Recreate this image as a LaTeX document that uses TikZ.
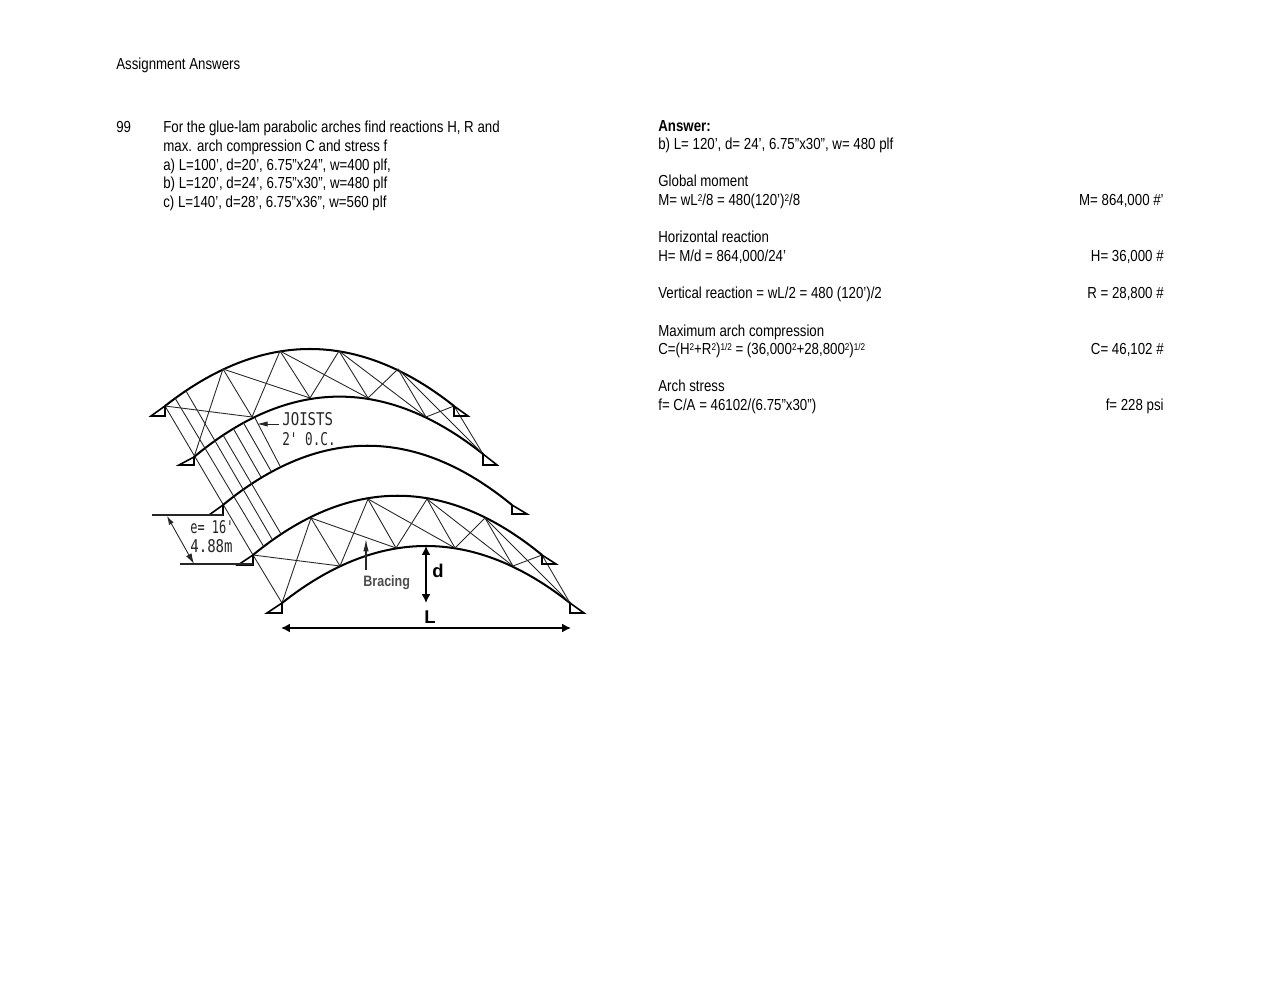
\documentclass[tikz,border=0pt]{standalone}
\usepackage{fontspec}
\setmainfont[FakeStretch=0.83]{Liberation Sans}
\newfontfamily\draftfont[FakeStretch=0.8]{DejaVu Sans Mono}
\newfontfamily\draftnarrow[FakeStretch=0.68]{DejaVu Sans Mono}
\newfontfamily\draftmid[FakeStretch=0.72]{DejaVu Sans Mono}
\newfontfamily\platefont{Liberation Sans}
\usetikzlibrary{arrows.meta}
\newcommand{\sps}[1]{\raisebox{0.5ex}{\fontsize{5.6pt}{6pt}\selectfont #1}}
\tikzset{
  txt/.style={anchor=base west,inner sep=0pt,font=\fontsize{9.1pt}{11pt}\selectfont},
  res/.style={anchor=base east,inner sep=0pt,font=\fontsize{9.1pt}{11pt}\selectfont},
  arch/.style={line width=1.15pt},
  bar/.style={line width=0.5pt,black!85},
  seat/.style={line width=0.9pt},
  bigdim/.style={line width=0.9pt,{Latex[length=5pt,width=5pt]}-{Latex[length=5pt,width=5pt]}},
  draft/.style={anchor=base west,inner sep=0pt,black!85,font=\draftfont\fontsize{10pt}{12pt}\selectfont},
  plate/.style={anchor=base west,inner sep=0pt,font=\fontsize{8.6pt}{10pt}\selectfont\bfseries},
  letter/.style={anchor=base west,inner sep=0pt,font=\platefont\fontsize{10.5pt}{12pt}\selectfont\bfseries},
}
\begin{document}
\begin{tikzpicture}[x=0.02cm,y=-0.02cm]
\useasboundingbox (0,0) rectangle (1280,989);

% text, left column
\node[txt] (title) at (116,70) {Assignment Answers};
\node[txt] (num) at (116,133) {99};
\node[txt] (q1) at (163,133) {For the glue-lam parabolic arches find reactions H, R and};
\node[txt] (q2) at (163,152) {max. arch compression C and stress f};
\node[txt] (q3) at (163,170.500) {a) L=100’, d=20’, 6.75”x24”, w=400 plf,};
\node[txt] (q4) at (163,189) {b) L=120’, d=24’, 6.75”x30”, w=480 plf};
\node[txt] (q5) at (163,208) {c) L=140’, d=28’, 6.75”x36”, w=560 plf};

% text, right column
\node[txt,font=\fontsize{9.1pt}{11pt}\selectfont\bfseries] (ans) at (658,132) {Answer:};
\node[txt] (l1) at (658,150) {b) L= 120’, d= 24’, 6.75”x30”, w= 480 plf};
\node[txt] (l2) at (658,187) {Global moment};
\node[txt] (l3) at (658,206) {M= wL\sps{2}/8 = 480(120’)\sps{2}/8};
\node[res] (r3) at (1164,206) {M= 864,000 \#’};
\node[txt] (l4) at (658,243) {Horizontal reaction};
\node[txt] (l5) at (658,262) {H= M/d = 864,000/24’};
\node[res] (r5) at (1164,262) {H= 36,000 \#};
\node[txt] (l6) at (658,299) {Vertical reaction = wL/2 = 480 (120’)/2};
\node[res] (r6) at (1164,299) {R = 28,800 \#};
\node[txt] (l7) at (658,336.500) {Maximum arch compression};
\node[txt] (l8) at (658,355) {C=(H\sps{2}+R\sps{2})\sps{1/2} = (36,000\sps{2}+28,800\sps{2})\sps{1/2}};
\node[res] (r8) at (1164,355) {C= 46,102 \#};
\node[txt] (l9) at (658,392) {Arch stress};
\node[txt] (l10) at (658,411) {f= C/A = 46102/(6.75”x30”)};
\node[res] (r10) at (1164,411) {f= 228 psi};

% joints, back pair of arches
\coordinate (a0) at (165,406);
\coordinate (a1) at (223,369);
\coordinate (a2) at (280,351);
\coordinate (a3) at (339,351);
\coordinate (a4) at (398,369);
\coordinate (a5) at (454,406);
\coordinate (b0) at (194,457);
\coordinate (b1) at (252,417);
\coordinate (b2) at (310,398);
\coordinate (b3) at (368,398);
\coordinate (b4) at (426,417);
\coordinate (b5) at (483,454);
\coordinate (c0) at (223,505);
\coordinate (c5) at (512,505);

% joints, front pair of arches
\coordinate (d0) at (253,555);
\coordinate (d1) at (311,518);
\coordinate (d2) at (368,499);
\coordinate (d3) at (427,499);
\coordinate (d4) at (485,518);
\coordinate (d5) at (542,555);
\coordinate (e0) at (282,603);
\coordinate (e1) at (340,566);
\coordinate (e2) at (396,548);
\coordinate (e3) at (455,548);
\coordinate (e4) at (513,566);
\coordinate (e5) at (570,603);

% arches
\draw[arch] (a0) .. controls (262,330) and (358,330) .. (a5);
\draw[arch] (b0) .. controls (290,377) and (386,377) .. (b5);
\draw[arch] (c0) .. controls (319,426) and (416,426) .. (c5);
\draw[arch] (d0) .. controls (349,476) and (446,476) .. (d5);
\draw[arch] (e0) .. controls (378,527) and (474,527) .. (e5);

% bracing, back
\draw[bar] (a0) -- (b1);
\draw[bar] (a1) -- (b0);
\draw[bar] (a1) -- (b1);
\draw[bar] (a1) -- (b2);
\draw[bar] (a2) -- (b1);
\draw[bar] (a2) -- (b2);
\draw[bar] (a2) -- (b3);
\draw[bar] (a3) -- (b2);
\draw[bar] (a3) -- (b3);
\draw[bar] (a3) -- (b4);
\draw[bar] (a4) -- (b3);
\draw[bar] (a4) -- (b4);
\draw[bar] (a4) -- (b5);
\draw[bar] (a5) -- (b4);
\draw[bar] (a5) -- (b5);

% bracing, front
\draw[bar] (d0) -- (e0);
\draw[bar] (d0) -- (e1);
\draw[bar] (d1) -- (e0);
\draw[bar] (d1) -- (e1);
\draw[bar] (d1) -- (e2);
\draw[bar] (d2) -- (e1);
\draw[bar] (d2) -- (e2);
\draw[bar] (d2) -- (e3);
\draw[bar] (d3) -- (e2);
\draw[bar] (d3) -- (e3);
\draw[bar] (d3) -- (e4);
\draw[bar] (d4) -- (e3);
\draw[bar] (d4) -- (e4);
\draw[bar] (d4) -- (e5);
\draw[bar] (d5) -- (e4);
\draw[bar] (d5) -- (e5);

% joists
\coordinate (j1) at (165,406);
\coordinate (j2) at (175,398);
\coordinate (j3) at (186,391);
\coordinate (j4) at (223,435);
\coordinate (j5) at (233,428);
\coordinate (j6) at (243,422);
\coordinate (j7) at (255,418);
\coordinate (k2) at (264,547);
\coordinate (k3) at (272,539);
\coordinate (k4) at (281,534);
\coordinate (k5) at (261,477);
\coordinate (k6) at (271,471);
\coordinate (k7) at (280,466);
\draw[bar] (j1) -- (d0);
\draw[bar] (j2) -- (k2);
\draw[bar] (j3) -- (k3);
\draw[bar] (j4) -- (k4);
\draw[bar] (j5) -- (k5);
\draw[bar] (j6) -- (k6);
\draw[bar] (j7) -- (k7);

% seats
\draw[seat] (a0) -- (151,416) -- (165,416) -- cycle;
\draw[seat] (a5) -- (468,416) -- (454,416) -- cycle;
\draw[seat] (b0) -- (179,465) -- (194,465) -- cycle;
\draw[seat] (b5) -- (497,465) -- (483,465) -- cycle;
\draw[seat] (c0) -- (209,515) -- (223,515) -- cycle;
\draw[seat] (c5) -- (527,514) -- (512,514) -- cycle;
\draw[seat] (d0) -- (238,565) -- (253,565) -- cycle;
\draw[seat] (d5) -- (556,564) -- (542,564) -- cycle;
\draw[seat] (e0) -- (267,613) -- (282,613) -- cycle;
\draw[seat] (e5) -- (584,613) -- (570,613) -- cycle;

% joists label
\node[draft] (joists) at (282,425) {JOISTS};
\node[draft,font=\draftmid\fontsize{10pt}{12pt}\selectfont] (spacing) at (282,445) {2' 0.C.};
\coordinate (jtail) at (279,424);
\coordinate (jtip) at (257,424);
\draw[bar,-{Latex[length=6pt,width=3pt]}] (jtail) -- (jtip);

% bay spacing
\coordinate (eu0) at (152,515);
\coordinate (el0) at (180,564);
\coordinate (eup) at (167,516);
\coordinate (elo) at (194,564);
\draw[bar,line width=0.7pt] (eu0) -- (c0 |- eu0);
\draw[bar,line width=0.7pt] (el0) -- (d0 |- el0);
\draw[bar,{Latex[length=5pt,width=3pt]}-{Latex[length=6pt,width=3.5pt]}] (eup) -- (elo);
\node[draft,font=\draftnarrow\fontsize{10pt}{12pt}\selectfont] (bay) at (190,533) {e= 16'};
\node[draft] (metric) at (190,552) {4.88m};

% bracing label
\coordinate (btail) at (366,570);
\coordinate (btip) at (366,539);
\draw[bar,line width=0.6pt,-{Latex[length=7pt,width=3pt]}] (btail) -- (btip);
\node[plate,black!70] (bracing) at (363,586) {Bracing};

% rise and span
\coordinate (dup) at (426,546);
\coordinate (dlo) at (426,603);
\coordinate (lle) at (281,628);
\coordinate (lri) at (571,628);
\draw[bigdim] (dup) -- (dlo);
\draw[bigdim] (lle) -- (lri);
\node[letter] (rise) at (432,577) {d};
\node[letter] (span) at (424,623) {L};
\end{tikzpicture}
\end{document}
